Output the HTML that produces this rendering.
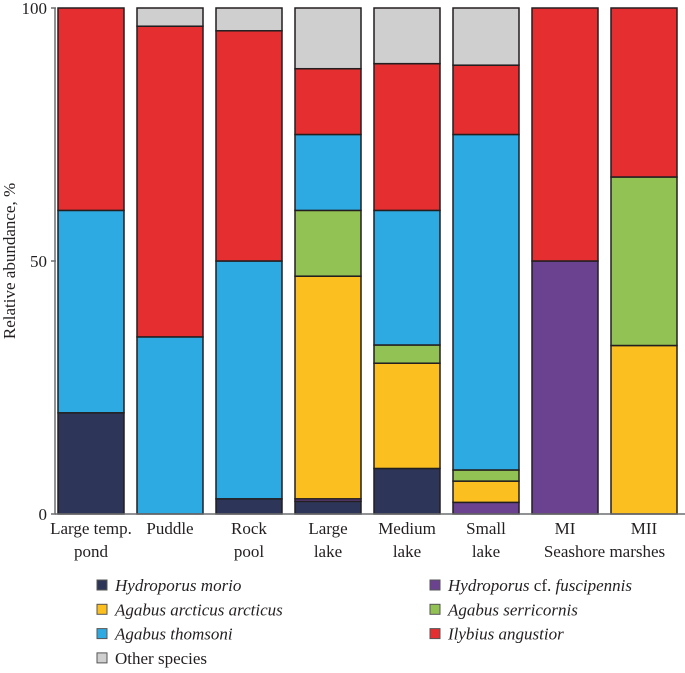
<!DOCTYPE html>
<html><head><meta charset="utf-8">
<style>
body{margin:0;background:#fff;}
svg text{font-family:"Liberation Serif",serif;fill:#231f20;}
</style></head>
<body>
<svg id="chart" width="685" height="668" xmlns="http://www.w3.org/2000/svg">
<g id="bars"></g>
<g id="axes"></g>
<g id="legend"></g>
</svg>
<script>
const categories = ["Large temp. pond","Puddle","Rock pool","Large lake","Medium lake","Small lake","MI","MII"];
const labelLine1 = ["Large temp.","Puddle","Rock","Large","Medium","Small","MI","MII"];
const labelLine2 = ["pond","","pool","lake","lake","lake","Seashore marshes",""];
const seriesNames = ["Hydroporus morio","Hydroporus cf. fuscipennis","Agabus arcticus arcticus","Agabus serricornis","Agabus thomsoni","Ilybius angustior","Other species"];
const seriesColors = ["#2d3658","#6b428f","#fbc020","#93c254","#2eaae2","#e52e30","#cfcfcf"];
const morio       = [20, 0, 3, 2.5, 9, 0, 0, 0];
const fuscipennis = [0, 0, 0, 0.5, 0, 2.3, 50, 0];
const arcticus    = [0, 0, 0, 44, 20.8, 4.2, 0, 33.3];
const serricornis = [0, 0, 0, 13, 3.6, 2.2, 0, 33.3];
const thomsoni    = [40, 35, 47, 15, 26.6, 66.3, 0, 0];
const angustior   = [40, 61.4, 45.5, 13, 29, 13.7, 50, 33.4];
const other       = [0, 3.6, 4.5, 12, 11, 11.3, 0, 0];
const yTicks = [0, 50, 100];

const series = [morio, fuscipennis, arcticus, serricornis, thomsoni, angustior, other];
const NS = "http://www.w3.org/2000/svg";
const y0 = 514, y1 = 8, xStart = 58, step = 79, barW = 66;
function yScale(v){ return y0 - (v/100)*(y0-y1); }
function xScale(i){ return xStart + i*step; }
function mk(tag, attrs, parent){ const e=document.createElementNS(NS,tag); for(const k in attrs) e.setAttribute(k,attrs[k]); parent.appendChild(e); return e; }

const gb = document.getElementById("bars");
categories.forEach((c,i)=>{
  let cum = 0;
  series.forEach((s,j)=>{
    const v = s[i];
    if(v<=0) return;
    const ya = yScale(cum+v), yb = yScale(cum);
    const r = mk("rect",{x:xScale(i),y:ya,width:barW,height:yb-ya,fill:seriesColors[j],stroke:"#231f20","stroke-width":1.5},gb);
    
    
    cum += v;
  });
});

const ga = document.getElementById("axes");
let ax = mk("line",{x1:55,y1:y1,x2:55,y2:y0,stroke:"#6d6e70","stroke-width":1.5},ga);


let bx = mk("line",{x1:55,y1:y0,x2:685,y2:y0,stroke:"#6d6e70","stroke-width":1.5},ga);


yTicks.forEach(t=>{
  const y = yScale(t);
  const tk = mk("line",{x1:51,y1:y,x2:56,y2:y,stroke:"#6d6e70","stroke-width":1.5},ga);
  
  
  const tl = mk("text",{x:47,y:y+6,"text-anchor":"end","font-size":17},ga);
  tl.textContent = t;
  
  
});
const yt = mk("text",{x:0,y:0,"text-anchor":"middle","font-size":17,transform:"translate(15,261) rotate(-90)"},ga);
yt.textContent = "Relative abundance, %";


categories.forEach((c,i)=>{
  const cx = xScale(i)+barW/2;
  const l1 = mk("text",{x:cx,y:534,"text-anchor":"middle","font-size":17},ga);
  l1.textContent = labelLine1[i];
  
  
  if(labelLine2[i]){
    const px = labelLine2[i]==="Seashore marshes" ? (xScale(i)+xScale(i+1)+barW)/2 : cx;
    const l2 = mk("text",{x:px,y:557,"text-anchor":"middle","font-size":17},ga);
    l2.textContent = labelLine2[i];
    
    
  }
});

const gl = document.getElementById("legend");
const legendItems = [
  [0,0,0,"Hydroporus morio",true],
  [2,0,1,"Agabus arcticus arcticus",true],
  [4,0,2,"Agabus thomsoni",true],
  [6,0,3,"Other species",false],
  [1,1,0,null,true],
  [3,1,1,"Agabus serricornis",true],
  [5,1,2,"Ilybius angustior",true]
];
legendItems.forEach(([si,col,row,name,it])=>{
  const sx = col===0 ? 97 : 430;
  const cy = 585 + row*24.3;
  const sw = mk("rect",{x:sx,y:cy-5,width:10,height:10,fill:seriesColors[si],stroke:"#555","stroke-width":1},gl);
  
  
  const t = mk("text",{x:sx+18,y:cy+6,"font-size":17},gl);
  if(name===null){
    t.innerHTML = '<tspan font-style="italic">Hydroporus</tspan> cf. <tspan font-style="italic">fuscipennis</tspan>';
  } else {
    t.textContent = name;
    if(it) t.setAttribute("font-style","italic");
  }
  
  
});
</script>
</body></html>
